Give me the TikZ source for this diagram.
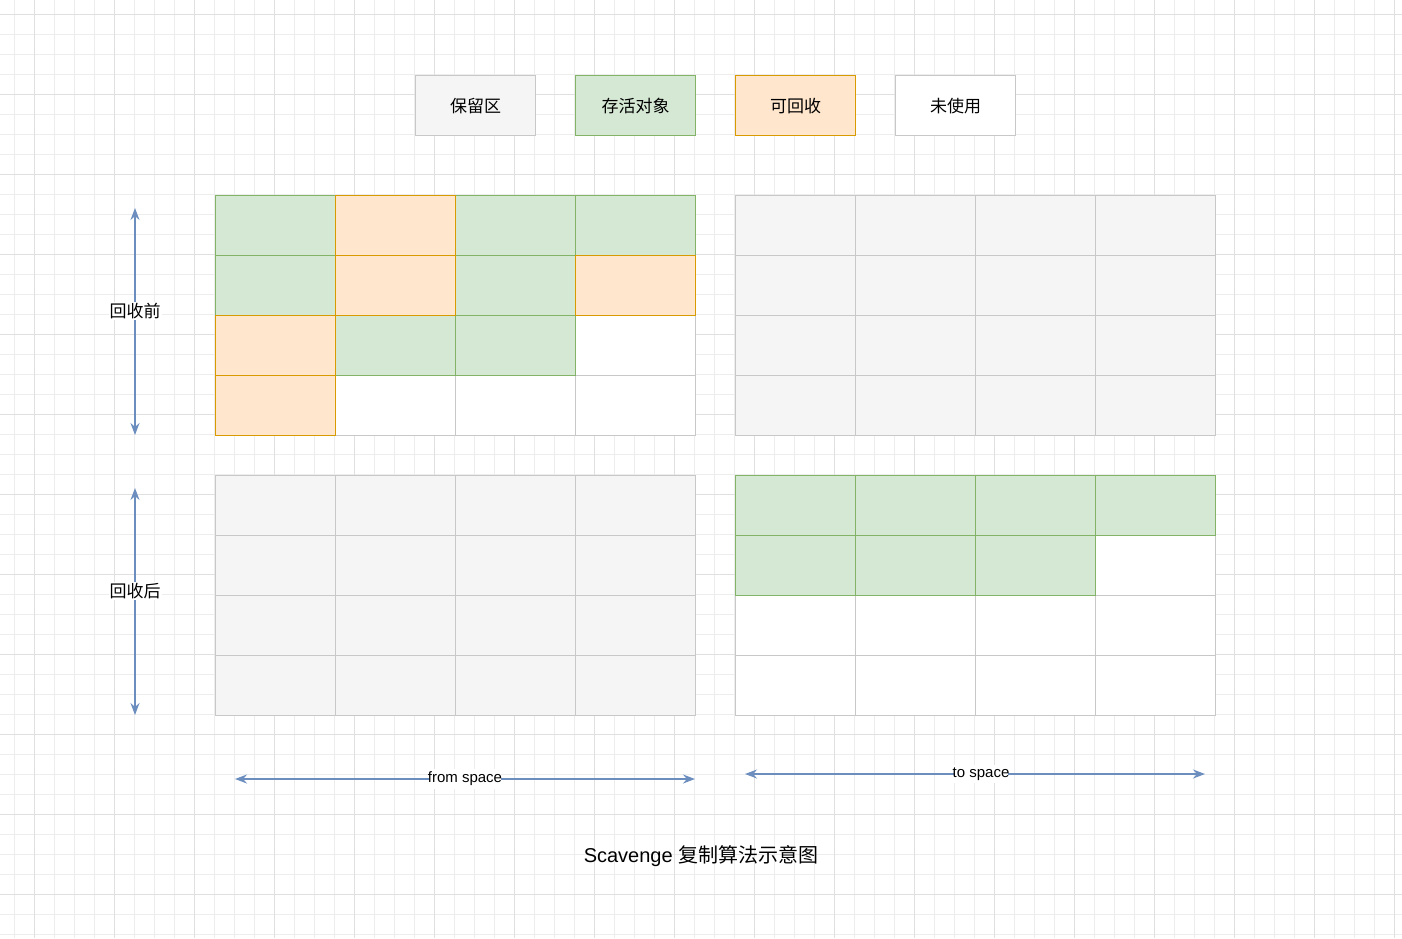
\documentclass[tikz,border=0pt]{standalone}
\usepackage{fontspec}
\setmainfont{Liberation Sans}
\newfontfamily\cjk{Noto Sans CJK SC}
\usetikzlibrary{arrows.meta}
\definecolor{gfill}{HTML}{F5F5F5}\definecolor{gline}{HTML}{C8C8C8}
\definecolor{grfill}{HTML}{D5E8D4}\definecolor{grline}{HTML}{82B366}
\definecolor{orfill}{HTML}{FFE6CC}\definecolor{orline}{HTML}{D79B00}
\definecolor{arr}{HTML}{6C8EBF}
\begin{document}
\begin{tikzpicture}[x=1pt,y=-1pt,
  cell/.style={draw, line width=1.3pt, minimum width=120pt, minimum height=60pt, inner sep=0pt, anchor=north west, font=\cjk\fontsize{17}{17}\selectfont},
  W/.style={cell, draw=gline, fill=white},
  Gy/.style={cell, draw=gline, fill=gfill},
  Gr/.style={cell, draw=grline, fill=grfill},
  Or/.style={cell, draw=orline, fill=orfill},
  dim/.style={arr, line width=1.3pt, {Stealth[length=12pt,width=9pt]}-{Stealth[length=12pt,width=9pt]}},
  lab/.style={fill=white, inner sep=1pt, text=black, font=\fontsize{15}{15}\selectfont}]
\useasboundingbox (0,0) rectangle (1402,938);
\fill[white] (0,0) rectangle (1402,938);
\foreach \x in {14,34,...,1402} \draw[black!7, line width=0.8pt] (\x,0) -- (\x,938);
\foreach \y in {14,34,...,938} \draw[black!7, line width=0.8pt] (0,\y) -- (1402,\y);
\foreach \x in {34,114,...,1402} \draw[black!12, line width=0.8pt] (\x,0) -- (\x,938);
\foreach \y in {14,94,...,938} \draw[black!12, line width=0.8pt] (0,\y) -- (1402,\y);
% legend
\node[Gy] (l1) at (415,75) {保留区};
\node[Gr] (l2) at (575,75) {存活对象};
\node[Or] (l3) at (735,75) {可回收};
\node[W]  (l4) at (895,75) {未使用};
% before-from
\foreach \c/\r/\s in {3/2/W,1/3/W,2/3/W,3/3/W} \node[\s] (bf\c\r) at (215+120*\c,195+60*\r) {};
\foreach \c/\r in {0/0,2/0,3/0,0/1,2/1,1/2,2/2} \node[Gr] (bf\c\r) at (215+120*\c,195+60*\r) {};
\foreach \c/\r in {1/0,1/1,3/1,0/2,0/3} \node[Or] (bf\c\r) at (215+120*\c,195+60*\r) {};
% before-to, after-from
\foreach \c in {0,...,3} \foreach \r in {0,...,3} {
  \node[Gy] (bt\c\r) at (735+120*\c,195+60*\r) {};
  \node[Gy] (af\c\r) at (215+120*\c,475+60*\r) {};
}
% after-to
\foreach \c/\r in {3/1,0/2,1/2,2/2,3/2,0/3,1/3,2/3,3/3} \node[W] (at\c\r) at (735+120*\c,475+60*\r) {};
\foreach \c/\r in {0/0,1/0,2/0,3/0,0/1,1/1,2/1} \node[Gr] (at\c\r) at (735+120*\c,475+60*\r) {};
% arrows
\coordinate (a1) at (135,208); \coordinate (a2) at (135,435);
\coordinate (b1) at (135,488); \coordinate (b2) at (135,715);
\coordinate (c1) at (235,779); \coordinate (c2) at (695,779);
\coordinate (d1) at (745,774); \coordinate (d2) at (1205,774);
\draw[dim] (a1) -- (a2); \node[lab, font=\cjk\fontsize{17}{17}\selectfont] (ta) at (135,311) {回收前};
\draw[dim] (b1) -- (b2); \node[lab, font=\cjk\fontsize{17}{17}\selectfont] (tb) at (135,591) {回收后};
\draw[dim] (c1) -- (c2); \node[lab, fill=none, inner sep=0pt] (tc) at (465,779) {\colorbox{white}{\hspace{-4pt}from space\hspace{-4pt}}};
\draw[dim] (d1) -- (d2); \node[lab, fill=none, inner sep=0pt] (td) at (981,774) {\colorbox{white}{\hspace{-4pt}to space\hspace{-4pt}}};
\node[font=\fontsize{20}{20}\selectfont] (title) at (701,856) {Scavenge {\cjk 复制算法示意图}};
\end{tikzpicture}
\end{document}
